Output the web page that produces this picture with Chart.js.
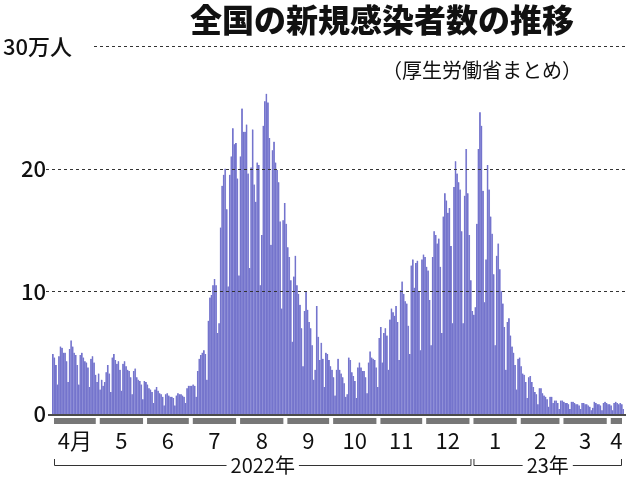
<!DOCTYPE html>
<html><head><meta charset="utf-8">
<script src="https://cdn.jsdelivr.net/npm/chart.js@4"></script>
<style>body{margin:0;background:#fff}#wrap{width:640px;height:486px}</style>
</head><body><div id="wrap"><canvas id="c"></canvas></div>
<script>
// daily new cases (万人), 2022-04-01 .. 2023-04-10
const apr22 = [4.9,4.6,4.0,2.4,4.7,5.5,5.4,5.0,5.0,4.3,2.6,5.3,6.0,5.5,5.0,4.8,4.0,2.4,4.8,5.0,4.6,4.3,4.2,3.8,2.2,4.5,4.7,4.2,3.2,2.6];
const may22 = [3.3,2.0,2.8,2.3,2.6,3.4,4.0,3.3,1.8,4.6,4.9,4.4,4.1,4.3,3.6,1.9,4.1,4.3,3.9,3.6,3.5,3.0,1.6,3.5,3.7,3.0,2.8,2.7,2.4,1.2,2.7];
const jun22 = [2.6,2.4,2.1,2.0,1.8,0.9,2.0,2.2,1.9,1.7,1.6,1.4,0.7,1.6,1.7,1.5,1.4,1.4,1.3,0.7,1.5,1.7,1.6,1.6,1.5,1.4,0.9,2.1,2.3,2.3];
const jul22 = [2.3,2.4,2.3,1.4,3.5,4.5,4.8,5.0,5.2,4.9,2.8,7.6,9.5,9.7,10.5,11.0,10.5,6.6,7.4,15.2,18.6,19.5,20.0,16.7,10.4,19.5,21.0,23.3,22.0,22.1,19.2];
const aug22 = [11.3,21.0,24.9,23.0,23.0,23.6,19.6,11.9,20.1,23.2,18.7,17.3,20.5,20.3,10.5,14.6,23.5,25.5,26.1,25.4,22.5,13.8,21.5,22.2,20.5,19.9,18.9,15.7,8.6,15.8,17.2];
const sep22 = [15.5,13.6,12.8,10.9,5.9,11.2,12.9,10.5,9.8,8.9,7.0,3.9,8.4,10.0,8.5,7.5,7.0,5.6,2.8,3.6,8.8,6.3,4.4,5.8,4.5,2.2,5.0,4.9,4.4,3.9];
const oct22 = [3.6,3.0,1.5,3.6,4.5,3.6,3.3,3.0,2.5,1.4,1.6,4.6,4.4,3.4,3.1,2.7,1.3,3.8,4.2,3.8,3.5,3.5,3.0,1.7,4.2,5.1,4.6,4.5,4.4,3.8,2.2];
const nov22 = [6.2,7.1,4.2,6.6,7.0,6.4,3.6,7.7,8.6,8.3,8.0,8.8,7.5,4.4,10.1,10.8,9.8,9.2,9.0,7.2,4.9,12.1,12.6,10.3,12.3,12.5,10.0,5.2,12.6,13.0];
const dec22 = [12.8,12.0,11.7,9.3,5.6,12.8,14.9,14.6,13.9,14.3,12.0,6.6,16.1,18.0,17.4,16.4,16.8,13.7,7.4,18.5,20.6,19.6,18.9,18.3,14.9,7.4,17.8,21.6,18.0,14.6,10.9];
const jan23 = [8.4,8.1,8.7,15.5,21.6,24.6,23.5,18.2,9.1,12.6,20.3,18.3,16.1,14.7,11.4,5.6,12.9,13.9,11.8,10.0,9.0,7.1,3.6,7.5,7.8,6.4,5.5,5.0,4.0,2.0,4.5];
const feb23 = [4.6,3.9,3.3,3.2,2.6,1.3,3.0,3.1,2.6,2.2,1.8,1.6,0.8,2.1,2.1,1.7,1.5,1.4,1.2,0.6,1.4,1.4,0.9,1.1,1.1,0.9,0.4,1.1];
const mar23 = [1.1,1.0,0.9,0.9,0.8,0.4,1.0,1.0,0.9,0.8,0.8,0.7,0.4,0.9,0.9,0.8,0.8,0.7,0.6,0.3,0.5,1.0,0.9,0.8,0.8,0.7,0.3,0.9,1.0,0.9,0.8];
const apr23 = [0.8,0.7,0.3,0.9,1.0,0.9,0.8,0.9,0.8,0.4];

const months = [apr22,may22,jun22,jul22,aug22,sep22,oct22,nov22,dec22,jan23,feb23,mar23,apr23];
const monthLabels = ['4月','5','6','7','8','9','10','11','12','1','2','3','4'];
const yTicks = [0,10,20];
const yearLabels = ['2022年','23年'];

const values = [].concat(...months);
const labels = values.map((v, i) => i);

const deco = {
    id: 'deco',
    afterDraw(chart) {
        const c = chart.ctx, x = chart.scales.x, y = chart.scales.y;
        const L = chart.chartArea.left, R = chart.chartArea.right;
        c.save();
        // grid lines
        c.strokeStyle = '#333'; c.lineWidth = 1; c.setLineDash([3, 3]);
        [10, 20].forEach(v => {
            const py = Math.round(y.getPixelForValue(v)) + 0.5;
            c.beginPath(); c.moveTo(46, py); c.lineTo(R + 2, py); c.stroke();
        });
        const p30 = Math.round(y.getPixelForValue(30)) + 0.5;
        c.beginPath(); c.moveTo(94, p30); c.lineTo(R + 2, p30); c.stroke();
        c.setLineDash([]);
        // baseline
        const p0 = y.getPixelForValue(0);
        c.strokeStyle = '#111'; c.lineWidth = 1.5;
        c.beginPath(); c.moveTo(L - 4, p0 + 1); c.lineTo(R + 2, p0 + 1); c.stroke();
        // y labels
        c.fillStyle = '#111'; c.font = '500 22px "Noto Sans CJK JP"';
        c.textAlign = 'right'; c.textBaseline = 'middle';
        yTicks.forEach(v => c.fillText(String(v), 46, y.getPixelForValue(v)));
        c.textAlign = 'left';
        c.fillText('30万人', 3, p30);
        // month bars and labels
        let start = 0;
        const half = (x.getPixelForValue(1) - x.getPixelForValue(0)) / 2;
        const bounds = [];
        months.forEach((m, i) => {
            const a = x.getPixelForValue(start) - half, b = x.getPixelForValue(start + m.length - 1) + half;
            bounds.push([a, b]);
            c.fillStyle = '#777';
            c.fillRect(a + 2, p0 + 4, b - a - 4, 6);
            c.fillStyle = '#111'; c.textAlign = 'center';
            c.font = '22px "Noto Sans CJK JP"';
            c.fillText(monthLabels[i], (a + b) / 2, p0 + 27);
            start += m.length;
        });
        // year brackets
        const by = 465;
        const spans = [[bounds[0][0] + 2, bounds[8][1]], [bounds[9][0] + 2, bounds[12][1] - 2]];
        c.font = '20px "Noto Sans CJK JP"';
        spans.forEach((s, i) => {
            const cx = (s[0] + s[1]) / 2;
            const tw = c.measureText(yearLabels[i]).width / 2 + 4;
            c.strokeStyle = '#333'; c.lineWidth = 1;
            c.beginPath();
            c.moveTo(s[0] + 0.5, by - 6); c.lineTo(s[0] + 0.5, by + 0.5); c.lineTo(cx - tw, by + 0.5);
            c.moveTo(cx + tw, by + 0.5); c.lineTo(s[1] - 0.5, by + 0.5); c.lineTo(s[1] - 0.5, by - 6);
            c.stroke();
            c.fillStyle = '#111';
            c.fillText(yearLabels[i], cx, by);
        });
        // title
        c.textAlign = 'center';
        c.font = '900 32px "Noto Sans CJK JP"';
        c.fillText('全国の新規感染者数の推移', 382, 20);
        c.font = '20px "Noto Sans CJK JP"';
        c.fillText('（厚生労働省まとめ）', 482, 70);
        c.restore();
    }
};

new Chart(document.getElementById('c'), {
    type: 'bar',
    data: {
        labels: labels,
        datasets: [{
            data: values,
            backgroundColor: '#7474cc',
            borderColor: '#9a9ae0',
            borderWidth: { left: 0, right: 0.4, top: 0, bottom: 0 },
            barPercentage: 1,
            categoryPercentage: 1
        }]
    },
    options: {
        responsive: true,
        maintainAspectRatio: false,
        animation: false,
        layout: { padding: { left: 52, right: 16, top: 46, bottom: 72 } },
        scales: {
            x: { display: false },
            y: { display: false, min: 0, max: 30 }
        },
        plugins: { legend: { display: false }, tooltip: { enabled: false } }
    },
    plugins: [deco]
});
</script></body></html>
